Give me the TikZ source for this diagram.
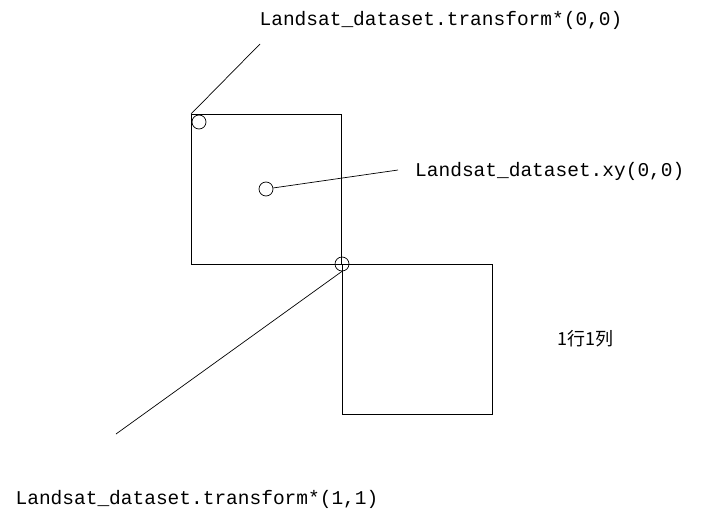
\documentclass[tikz,border=0pt]{standalone}
\usepackage{fontspec}
\setmonofont{Liberation Mono}
\newfontfamily\cjk{Noto Sans CJK SC}
\begin{document}
\begin{tikzpicture}[x=1pt,y=-1pt,
  sq/.style={draw,minimum size=150pt,inner sep=0pt,anchor=north west},
  ring/.style={draw,circle,minimum size=14pt,inner sep=0pt},
  lbl/.style={font=\fontsize{19.5}{20}\ttfamily,inner sep=0pt},
  thin/.style={line width=0.7pt}]
\useasboundingbox (0,0) rectangle (703,524);
\node[sq,thin] (s1) at (191,114) {};
\node[sq,thin] (s2) at (342,264) {};
\node[ring,thin] (c1) at (199,122) {};
\node[ring,thin] (c2) at (266,189) {};
\node[ring,thin] (c3) at (342,264) {};
\node[lbl] (t1) at (441,20) {Landsat\_dataset.transform*(0,0)};
\node[lbl,anchor=west] (t2) at (415,171) {Landsat\_dataset.xy(0,0)};
\node[lbl] (t3) at (197,499) {Landsat\_dataset.transform*(1,1)};
\node[font=\cjk\fontsize{18}{20}\selectfont] (t4) at (585,339) {1行1列};
\coordinate (e1) at (260,44);
\coordinate (e2) at (398,170);
\coordinate (e3) at (116,434);
\draw[thin] (s1.north west) -- (e1);
\draw[thin] (c2) -- (e2);
\draw[thin] (c3.south) -- (e3);
\end{tikzpicture}
\end{document}
